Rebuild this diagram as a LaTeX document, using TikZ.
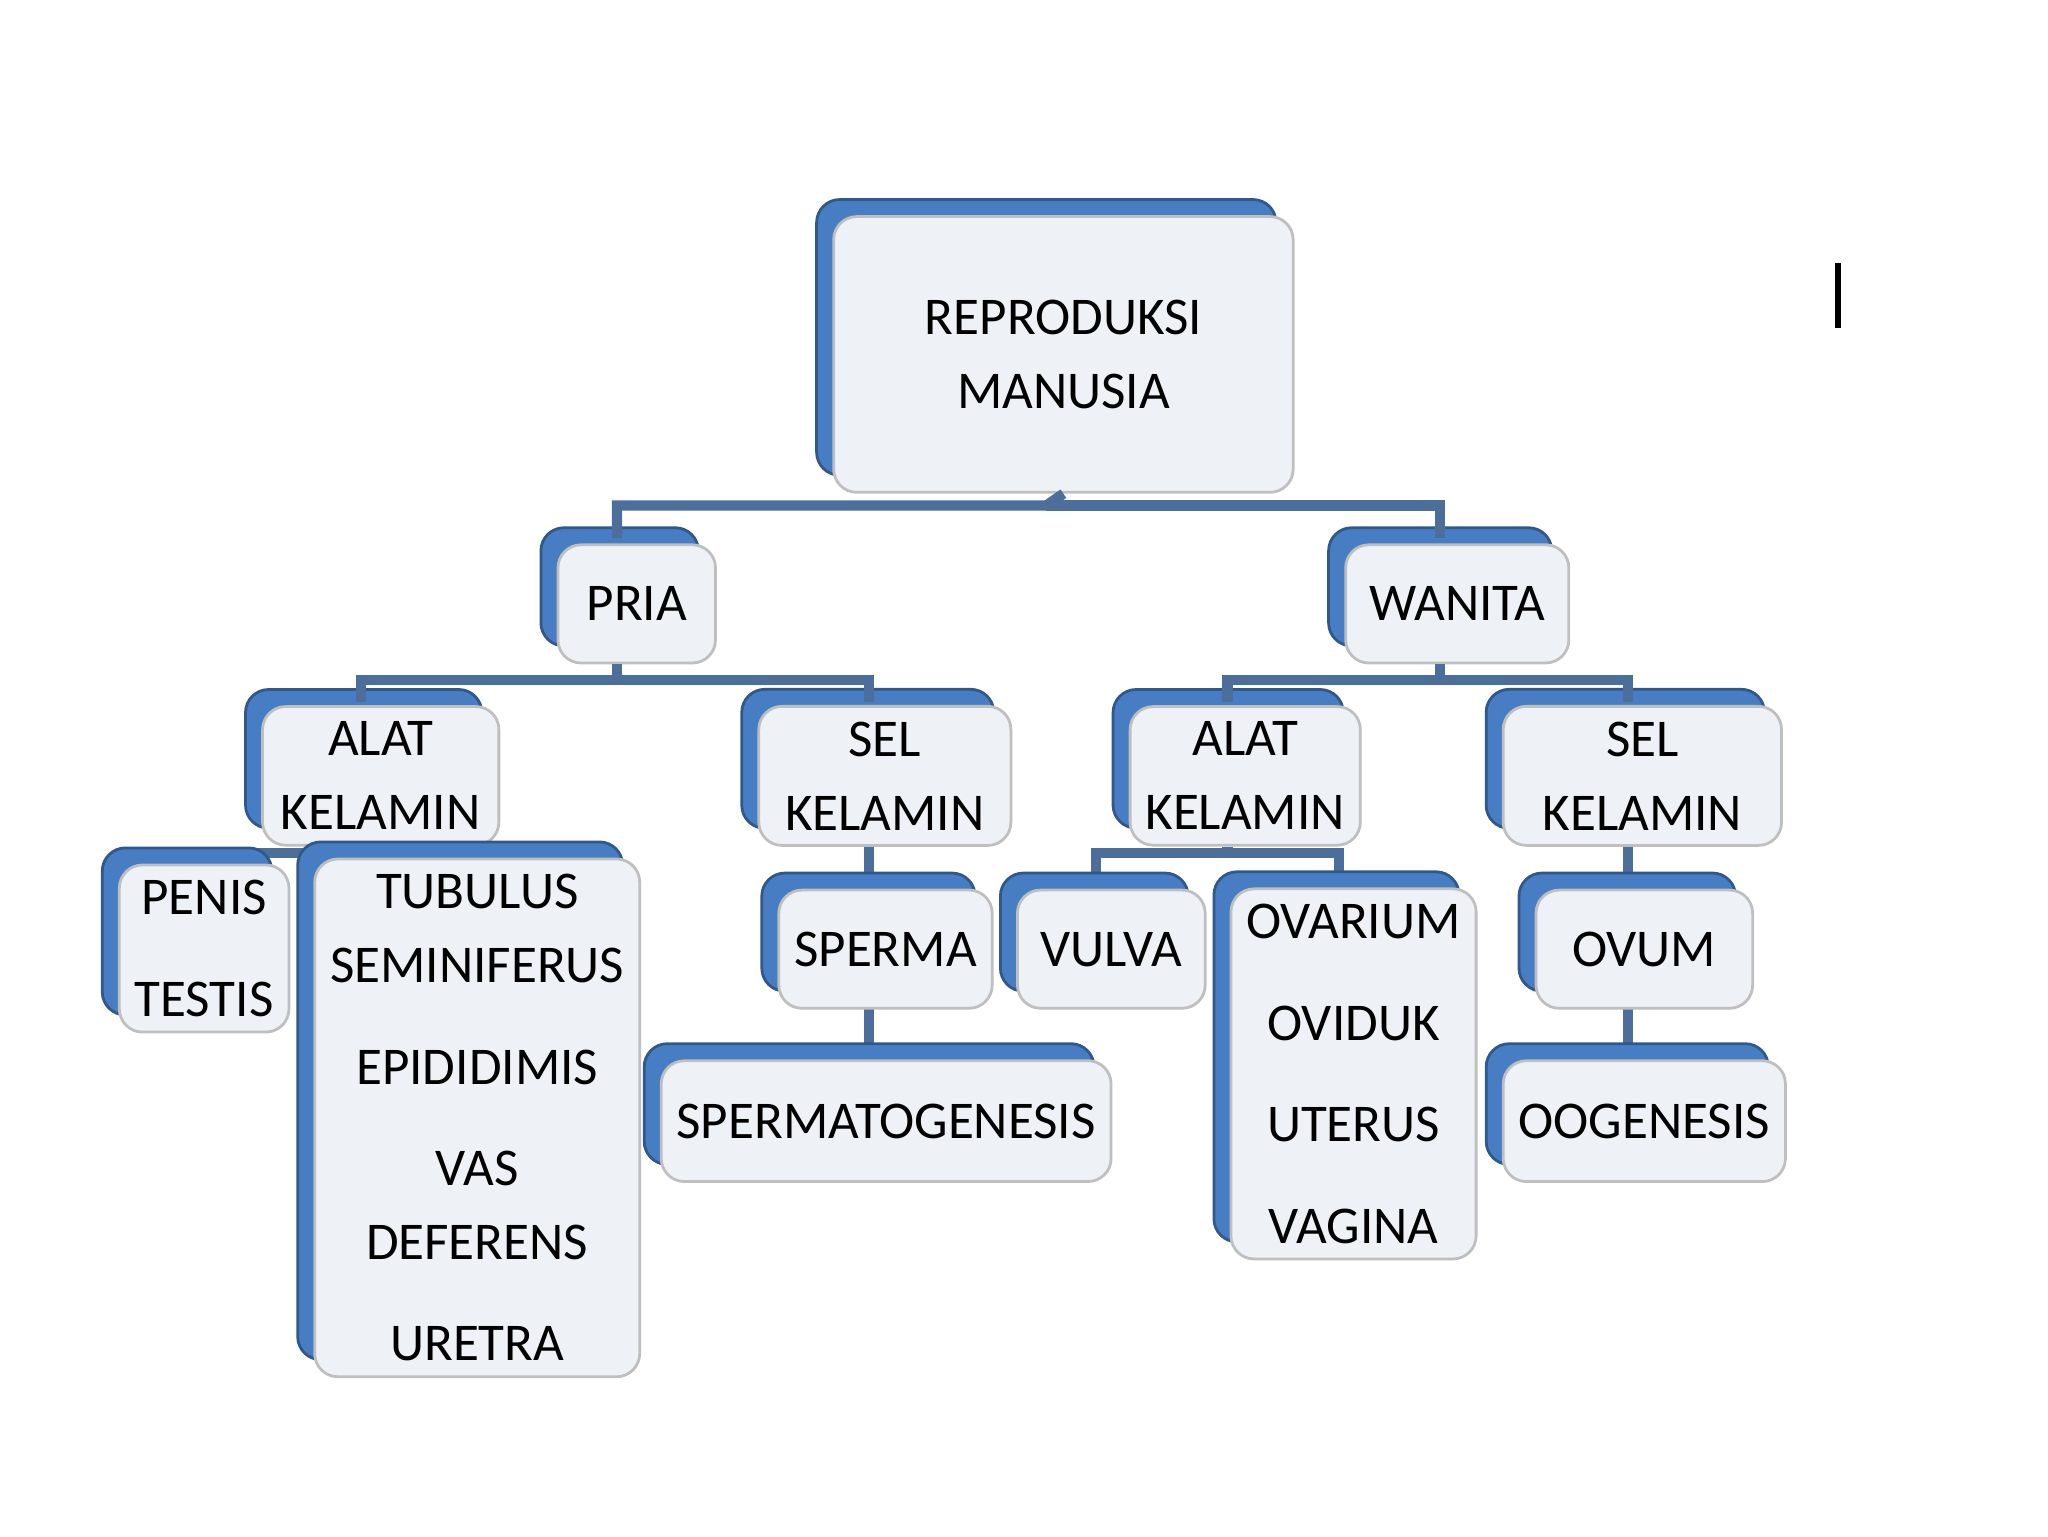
\documentclass[tikz,border=0pt]{standalone}
\usepackage{fontspec}
\setmainfont{Carlito}
\usetikzlibrary{shadows}
\definecolor{bk}{RGB}{70,125,195}
\definecolor{ln}{RGB}{75,110,155}
\definecolor{fr}{RGB}{238,241,246}
\tikzset{
  bx/.style={draw=white!75!black, line width=0.6pt, fill=fr, rounded corners=5pt, align=center,
    font=\fontsize{11.5}{16}\selectfont,
    copy shadow={shadow xshift=-1.3mm, shadow yshift=1.3mm, fill=bk, draw=bk!70!black}},
  cn/.style={draw=ln, line width=2.2pt}
}
\newcommand\mybox[6]{\node[bx, minimum width=#4cm-#2cm, minimum height=#5cm-#3cm] (#1) at ({(#2+#4)/2},{-(#3+#5)/2}) {#6};}
\begin{document}
\begin{tikzpicture}
\useasboundingbox (0,0) rectangle (15.6,-11.7);
\fill[white] (0,0) rectangle (15.6,-11.7);
% connectors (behind)
\coordinate (j0) at (7.97,-3.85);
\coordinate (j1) at (4.70,-5.18);
\coordinate (j2) at (10.97,-5.18);
\coordinate (j3) at (2.75,-6.50);
\coordinate (j4) at (9.35,-6.50);
\mybox{root}{6.35}{1.65}{9.85}{3.75}{REPRODUKSI\\MANUSIA}
\mybox{pria}{4.25}{4.15}{5.45}{5.05}{PRIA}
\mybox{wanita}{10.25}{4.15}{11.95}{5.05}{WANITA}
\mybox{alatL}{2.00}{5.45}{3.80}{6.37}{ALAT\\KELAMIN}
\mybox{selL}{5.78}{5.45}{7.70}{6.37}{SEL\\KELAMIN}
\mybox{alatR}{8.62}{5.45}{10.35}{6.37}{ALAT\\KELAMIN}
\mybox{selR}{11.45}{5.45}{13.57}{6.37}{SEL\\KELAMIN}
\begin{scope}[on background layer/.style={}]
\end{scope}
\draw[cn] (root.south) -- (j0) -| (4.70,-4.10);
\draw[cn] (j0) -| (10.97,-4.10);
\draw[cn] (pria.south -| j1) -- (j1) -| (2.75,-5.35);
\draw[cn] (j1) -| (6.62,-5.35);
\draw[cn] (wanita.south -| j2) -- (j2) -| (9.35,-5.35);
\draw[cn] (j2) -| (12.40,-5.35);
\draw[cn] (alatL.south -| j3) -- (j3) -| (1.40,-6.65);
\draw[cn] (j3) -| (3.52,-6.65);
\draw[cn] (alatR.south -| j4) -- (j4) -| (8.35,-6.65);
\draw[cn] (j4) -| (10.20,-6.65);
\draw[cn] (selL.south -| 6.62,0) -- (6.62,-8.00);
\draw[cn] (selR.south -| 12.40,0) -- (12.40,-8.00);
\mybox{penis}{0.93}{6.75}{2.18}{7.70}{PENIS\\[6pt]TESTIS}
\mybox{tub}{2.40}{6.78}{4.87}{10.25}{TUBULUS\\SEMINIFERUS\\[6pt]EPIDIDIMIS\\[6pt]VAS\\DEFERENS\\[6pt]URETRA}
\mybox{sperma}{5.97}{6.78}{7.52}{7.68}{SPERMA}
\mybox{spg}{5.10}{8.08}{8.40}{9.00}{SPERMATOGENESIS}
\mybox{vulva}{7.75}{6.78}{9.18}{7.68}{VULVA}
\mybox{ovar}{9.40}{6.78}{11.22}{9.58}{OVARIUM\\[6pt]OVIDUK\\[6pt]UTERUS\\[6pt]VAGINA}
\mybox{ovum}{11.70}{6.78}{13.35}{7.68}{OVUM}
\mybox{oog}{11.48}{8.08}{13.57}{9.00}{OOGENESIS}
\draw[line width=1.2pt] (14.0,-2.0) -- (14.0,-2.5);
\end{tikzpicture}
\end{document}
